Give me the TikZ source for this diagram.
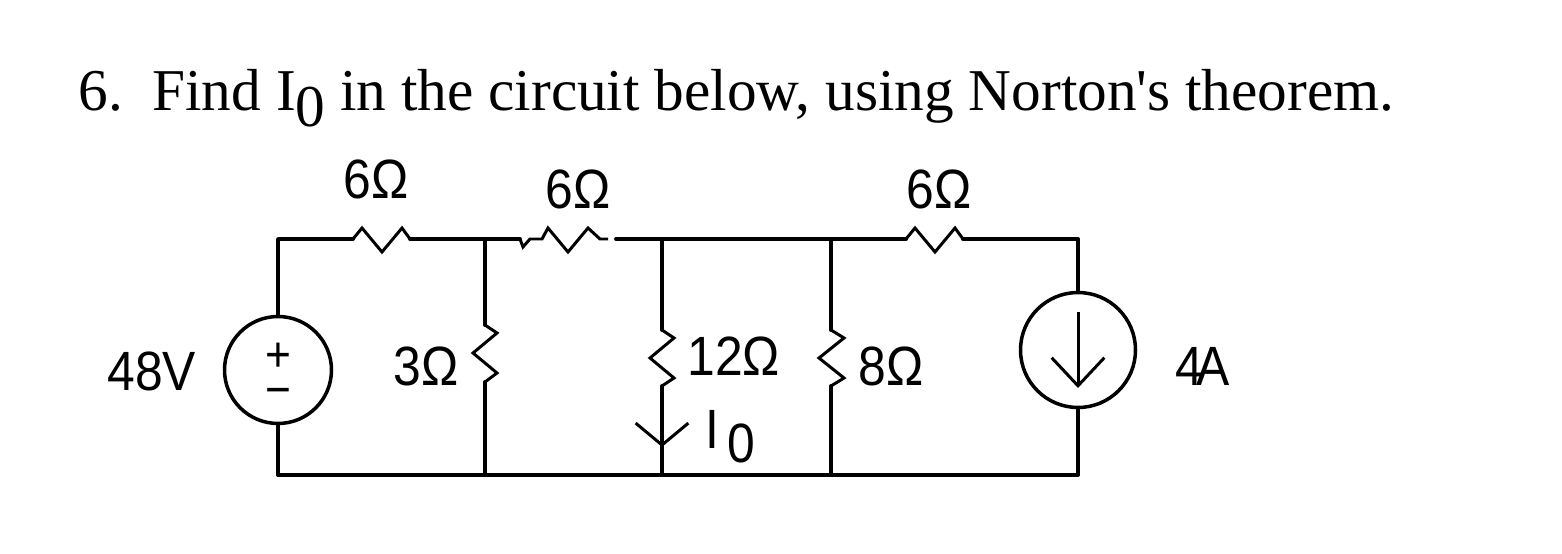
\documentclass[tikz,border=0pt]{standalone}
\usepackage{fontspec}
\setmainfont{Liberation Serif}[Ligatures=TeXOff]
\newfontfamily\labelfont{Liberation Sans}[FakeStretch=0.9]
\usetikzlibrary{arrows.meta}
\tikzset{
    wire/.style={line width=2.2pt, line join=round, line cap=round},
    zig/.style={line width=1.7pt, line join=miter},
    source/.style={circle, draw, line width=2pt, inner sep=0pt},
    value/.style={anchor=base west, inner sep=0pt, font=\labelfont\fontsize{31.5}{33}\selectfont},
    sign/.style={inner sep=0pt, align=center, font=\labelfont\fontsize{28}{20}\selectfont},
    barb/.style={line width=1.7pt, -{Straight Barb[length=#1, width=30pt, line width=1.7pt]}},
}
\begin{document}
\begin{tikzpicture}[x=0.02cm, y=-0.02cm]
        \useasboundingbox (0,0) rectangle (1562,554);

        \node[anchor=base west, inner sep=0pt, font=\fontsize{33.75}{36}\selectfont] (title) at (78,111)
            {6.\ \ Find I\raisebox{-9pt}{0} in the circuit below, using Norton's theorem.};

        \coordinate (tl) at (278,239);
        \coordinate (ta) at (485,239);
        \coordinate (tb) at (662,239);
        \coordinate (tc) at (831,239);
        \coordinate (tr) at (1078,239);
        \coordinate (bl) at (278,475);
        \coordinate (ba) at (485,475);
        \coordinate (bb) at (662,475);
        \coordinate (bc) at (831,475);
        \coordinate (br) at (1078,475);

        \node[source, minimum size=2.14cm] (vs) at (278,370) {};
        \node[source, minimum size=2.3cm]  (is) at (1078,350) {};
        \node[sign] (polarity) at (278,375) {+\\\char"2212};

        \coordinate (r1a) at (353,239);
        \coordinate (r1b) at (410,239);
        \coordinate (r2a) at (520,239);
        \coordinate (r2b) at (608,239);
        \coordinate (r2c) at (616,239);
        \coordinate (r3a) at (906,239);
        \coordinate (r3b) at (963,239);
        \coordinate (r4a) at (485,325);
        \coordinate (r4b) at (485,382);
        \coordinate (r5a) at (662,330);
        \coordinate (r5b) at (662,386);
        \coordinate (r6a) at (831,330);
        \coordinate (r6b) at (831,386);

        \draw[wire] (vs.north) -- (tl) -- (r1a);
        \draw[wire] (r1b) -- (ta) -- (r2a);
        \draw[wire] (r2c) -- (tb) -- (tc) -- (r3a);
        \draw[wire] (r3b) -- (tr) -- (is.north);
        \draw[wire] (vs.south) -- (bl) -- (ba) -- (bb) -- (bc) -- (br) -- (is.south);
        \draw[wire] (ta) -- (r4a);
        \draw[wire] (r4b) -- (ba);
        \draw[wire] (tb) -- (r5a);
        \draw[wire] (r5b) -- (bb);
        \draw[wire] (tc) -- (r6a);
        \draw[wire] (r6b) -- (bc);

        \draw[zig] (r1a) -- ++(9,-11) -- ++(20,24) -- ++(20,-24) -- (r1b);
        \draw[zig] (r2a) -- ++(3,8) -- ++(7,-8) -- ++(12,0) -- ++(6,-11) -- ++(20,24) -- ++(20,-24) -- ++(12,11) -- (r2b);
        \draw[zig] (r3a) -- ++(9,-11) -- ++(20,24) -- ++(20,-24) -- (r3b);
        \draw[zig] (r4a) -- ++(12,8) -- ++(-24,20) -- ++(24,20) -- (r4b);
        \draw[zig] (r5a) -- ++(12,8) -- ++(-24,20) -- ++(24,20) -- (r5b);
        \draw[zig] (r6a) -- ++(13,8) -- ++(-25,20) -- ++(25,20) -- (r6b);

        \coordinate (isa) at (1078,312);
        \coordinate (isb) at (1078,388);
        \coordinate (ioa) at (662,400);
        \coordinate (iob) at (662,447);
        \draw[barb=16pt]   (isa) -- (isb);
        \draw[barb=12.5pt] (ioa) -- (iob);

        \node[value] (r1) at (343,198) {6\symbol{"03A9}};
        \node[value] (r2) at (545,208) {6\symbol{"03A9}};
        \node[value] (r3) at (906,208) {6\symbol{"03A9}};
        \node[value] (r4) at (393,385) {3\symbol{"03A9}};
        \node[value] (r5) at (687,375) {12\symbol{"03A9}};
        \node[value] (r6) at (858,385) {8\symbol{"03A9}};
        \node[value] (e1) at (107,390) {48V};
        \node[value] (i1) at (1175,385) {4\kern-4pt A};
        \node[value] (io) at (705,448) {I\kern5pt\raisebox{-8.5pt}{0}};
\end{tikzpicture}
\end{document}
